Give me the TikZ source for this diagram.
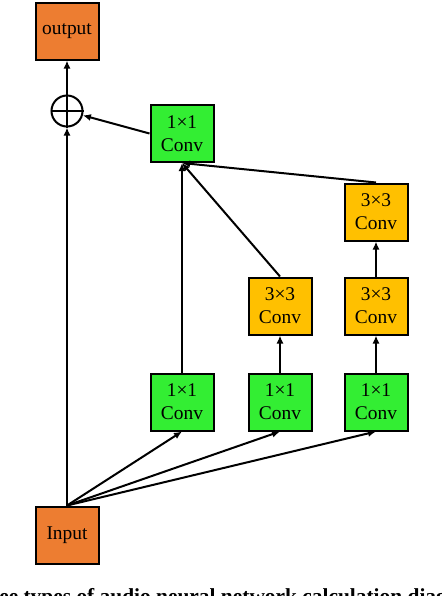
\documentclass[tikz,border=0pt]{standalone}
\usepackage{fontspec}
\setmainfont{Liberation Serif}
\usetikzlibrary{arrows.meta}
\definecolor{arancio}{HTML}{ED7D31}
\definecolor{verde}{HTML}{33EE33}
\definecolor{giallo}{HTML}{FFC000}

\begin{document}
\begin{tikzpicture}[x=0.5pt, y=-0.5pt, line width=1pt, >={Latex[length=4pt,width=3.5pt]},
    box/.style = {draw, minimum width=31.5pt, minimum height=28.5pt, inner sep=0pt, align=center, font=\fontsize{9.7}{11.5}\selectfont},
    io/.style = {box, fill=arancio},
    uno/.style = {box, fill=verde},
    tre/.style = {box, fill=giallo}]
    \useasboundingbox (0,0) rectangle (442,596);
    % Disegna i nodi del grafo
    \node[io] (out) at (67,31) {output};
    \node[draw, circle, minimum size=15.5pt, inner sep=0pt] (sum) at (67,111) {};
    \node[uno] (top) at (182,133.5) {1×1\\Conv};
    \node[tre] (c3) at (376,212) {3×3\\Conv};
    \node[tre] (b2) at (280,306) {3×3\\Conv};
    \node[tre] (c2) at (376,306) {3×3\\Conv};
    \node[uno] (a1) at (182,402) {1×1\\Conv};
    \node[uno] (b1) at (280,402) {1×1\\Conv};
    \node[uno] (c1) at (376,402) {1×1\\Conv};
    \node[io] (in) at (67,535) {Input};

    \draw (sum.north) -- (sum.south);
    \draw (sum.west) -- (sum.east);

    \draw[->] (in) -- (sum);
    \draw[->] (sum) -- (out);
    \draw[->] (top.west) -- (sum);
    \draw[->] (in.north) -- (a1.south);
    \draw[->] (in.north) -- (b1.south);
    \draw[->] (in.north) -- (c1.south);
    \draw[->] (a1) -- (top);
    \draw[->] (b1) -- (b2);
    \draw[->] (b2.north) -- (top.south);
    \draw[->] (c1) -- (c2);
    \draw[->] (c2) -- (c3);
    \draw[->] (c3.north) -- (top.south);

    % didascalia tagliata
    \begin{scope}
        \clip (0,0) rectangle (442,596);
        \node[anchor=base west, inner sep=0pt, font=\bfseries\fontsize{10.7}{12}\selectfont] (cap) at (-37,603.5) {Three types of audio neural network calculation diagram};
    \end{scope}
\end{tikzpicture}
\end{document}
